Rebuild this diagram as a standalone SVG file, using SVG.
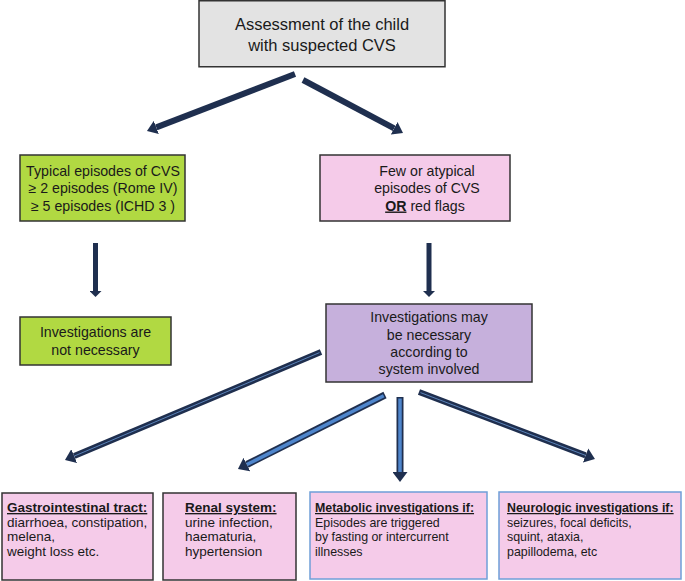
<svg xmlns="http://www.w3.org/2000/svg" width="685" height="581" viewBox="0 0 685 581">
<style>
  text { font-family: "Liberation Sans", Arial, sans-serif; fill: #1a1a1a; }
  .box { stroke: #333333; stroke-width: 1.5; }
  .boxb { stroke: #6f9fd8; stroke-width: 1.5; }
  .gray { fill: #e3e3e3; }
  .green { fill: #b1d942; }
  .pink { fill: #f5cbe9; }
  .purple { fill: #c6b0dc; }
  .t16 { font-size: 16.5px; text-anchor: middle; }
  .t14 { font-size: 14.2px; text-anchor: middle; }
  .tA { font-size: 13.5px; }
  .tC { font-size: 12.4px; }
  .hd { font-weight: bold; text-decoration: underline; }
  .dark { stroke: #1f2f4f; fill: none; }
  .in1 { stroke: #5a82b8; fill: none; stroke-width: 1; }
  .in2 { stroke: #4f86cc; fill: none; stroke-width: 3.5; }
</style>
<defs>
  <marker id="hTop" viewBox="0 0 10 10" refX="0" refY="5" markerUnits="userSpaceOnUse" markerWidth="10" markerHeight="14" preserveAspectRatio="none" orient="auto">
    <path d="M0,0 L10,5 L0,10 z" fill="#1f2f4f"/>
  </marker>
  <marker id="hVert" viewBox="0 0 10 10" refX="0" refY="5" markerUnits="userSpaceOnUse" markerWidth="6" markerHeight="12" preserveAspectRatio="none" orient="auto">
    <path d="M0,0 L10,5 L0,10 z" fill="#1f2f4f"/>
  </marker>
  <marker id="hBot" viewBox="0 0 10 10" refX="0" refY="5" markerUnits="userSpaceOnUse" markerWidth="10" markerHeight="15" preserveAspectRatio="none" orient="auto">
    <path d="M0,0 L10,5 L0,10 z" fill="#1f2f4f"/>
  </marker>
</defs>

<g id="node-assessment">
  <rect class="box gray" x="199" y="0.75" width="246" height="66"/>
  <text class="t16" x="322" y="30">Assessment of the child</text>
  <text class="t16" x="322" y="51">with suspected CVS</text>
</g>

<g id="node-typical">
  <rect class="box green" x="20" y="155" width="165" height="66"/>
  <text class="t14" x="103" y="175.5">Typical episodes of CVS</text>
  <text class="t14" x="103" y="193">≥ 2 episodes (Rome IV)</text>
  <text class="t14" x="103" y="210.5">≥ 5 episodes (ICHD 3 )</text>
</g>

<g id="node-atypical">
  <rect class="box pink" x="320" y="155" width="190" height="66"/>
  <text class="t14" x="427" y="175.5">Few or atypical</text>
  <text class="t14" x="427" y="193">episodes of CVS</text>
  <text class="t14" x="425" y="210.5"><tspan class="hd">OR</tspan> red flags</text>
</g>

<g id="node-not-necessary">
  <rect class="box green" x="20" y="317" width="151" height="48"/>
  <text class="t14" x="95.5" y="337">Investigations are</text>
  <text class="t14" x="95.5" y="354.5">not necessary</text>
</g>

<g id="node-may-be-necessary">
  <rect class="box purple" x="326" y="304" width="206" height="78"/>
  <text class="t14" x="429" y="322">Investigations may</text>
  <text class="t14" x="429" y="339.5">be necessary</text>
  <text class="t14" x="429" y="357">according to</text>
  <text class="t14" x="429" y="374">system involved</text>
</g>

<g id="node-gi">
  <rect class="box pink" x="2" y="493" width="151" height="87"/>
  <text class="tA" x="7" y="512"><tspan class="hd">Gastrointestinal tract:</tspan></text>
  <text class="tA" x="7" y="526.5">diarrhoea, constipation,</text>
  <text class="tA" x="7" y="541">melena,</text>
  <text class="tA" x="7" y="555.5">weight loss etc.</text>
</g>

<g id="node-renal">
  <rect class="box pink" x="163" y="493" width="133" height="87"/>
  <text class="tA" x="185" y="512"><tspan class="hd">Renal system:</tspan></text>
  <text class="tA" x="185" y="526.5">urine infection,</text>
  <text class="tA" x="185" y="541">haematuria,</text>
  <text class="tA" x="185" y="555.5">hypertension</text>
</g>

<g id="node-metabolic">
  <rect class="boxb pink" x="310" y="492" width="177" height="87"/>
  <text class="tC" x="315" y="512"><tspan class="hd">Metabolic investigations if:</tspan></text>
  <text class="tC" x="315" y="526.5">Episodes are triggered</text>
  <text class="tC" x="315" y="541">by fasting or intercurrent</text>
  <text class="tC" x="315" y="555.5">illnesses</text>
</g>

<g id="node-neurologic">
  <rect class="boxb pink" x="499" y="492" width="182" height="87"/>
  <text class="tC" x="507" y="512"><tspan class="hd">Neurologic investigations if:</tspan></text>
  <text class="tC" x="507" y="526.5">seizures, focal deficits,</text>
  <text class="tC" x="507" y="541">squint, ataxia,</text>
  <text class="tC" x="507" y="555.5">papillodema, etc</text>
</g>

<g id="connectors">
  <line class="dark" x1="295" y1="74" x2="156.3" y2="127.4" stroke-width="6" marker-end="url(#hTop)"/>
  <line class="dark" x1="303" y1="80" x2="394.2" y2="128.3" stroke-width="6" marker-end="url(#hTop)"/>
  <line class="dark" x1="95.5" y1="243" x2="95.5" y2="291" stroke-width="5" marker-end="url(#hVert)"/>
  <line class="dark" x1="429" y1="243" x2="429" y2="291" stroke-width="5" marker-end="url(#hVert)"/>

  <line class="dark" x1="321" y1="352" x2="74.2" y2="456.1" stroke-width="6" marker-end="url(#hBot)"/>
  <line class="in1" x1="319.5" y1="352.6" x2="74.2" y2="456.1"/>

  <line class="dark" x1="385" y1="395" x2="246.9" y2="464.5" stroke-width="7" marker-end="url(#hBot)"/>
  <line class="in2" x1="383.7" y1="395.7" x2="246.9" y2="464.5"/>

  <line class="dark" x1="400" y1="397" x2="400" y2="472" stroke-width="7" marker-end="url(#hBot)"/>
  <line class="in2" x1="400" y1="398.5" x2="400" y2="472"/>

  <line class="dark" x1="419" y1="392" x2="585.6" y2="455.4" stroke-width="6" marker-end="url(#hBot)"/>
  <line class="in1" x1="420.5" y1="392.6" x2="585.6" y2="455.4"/>
</g>
</svg>
